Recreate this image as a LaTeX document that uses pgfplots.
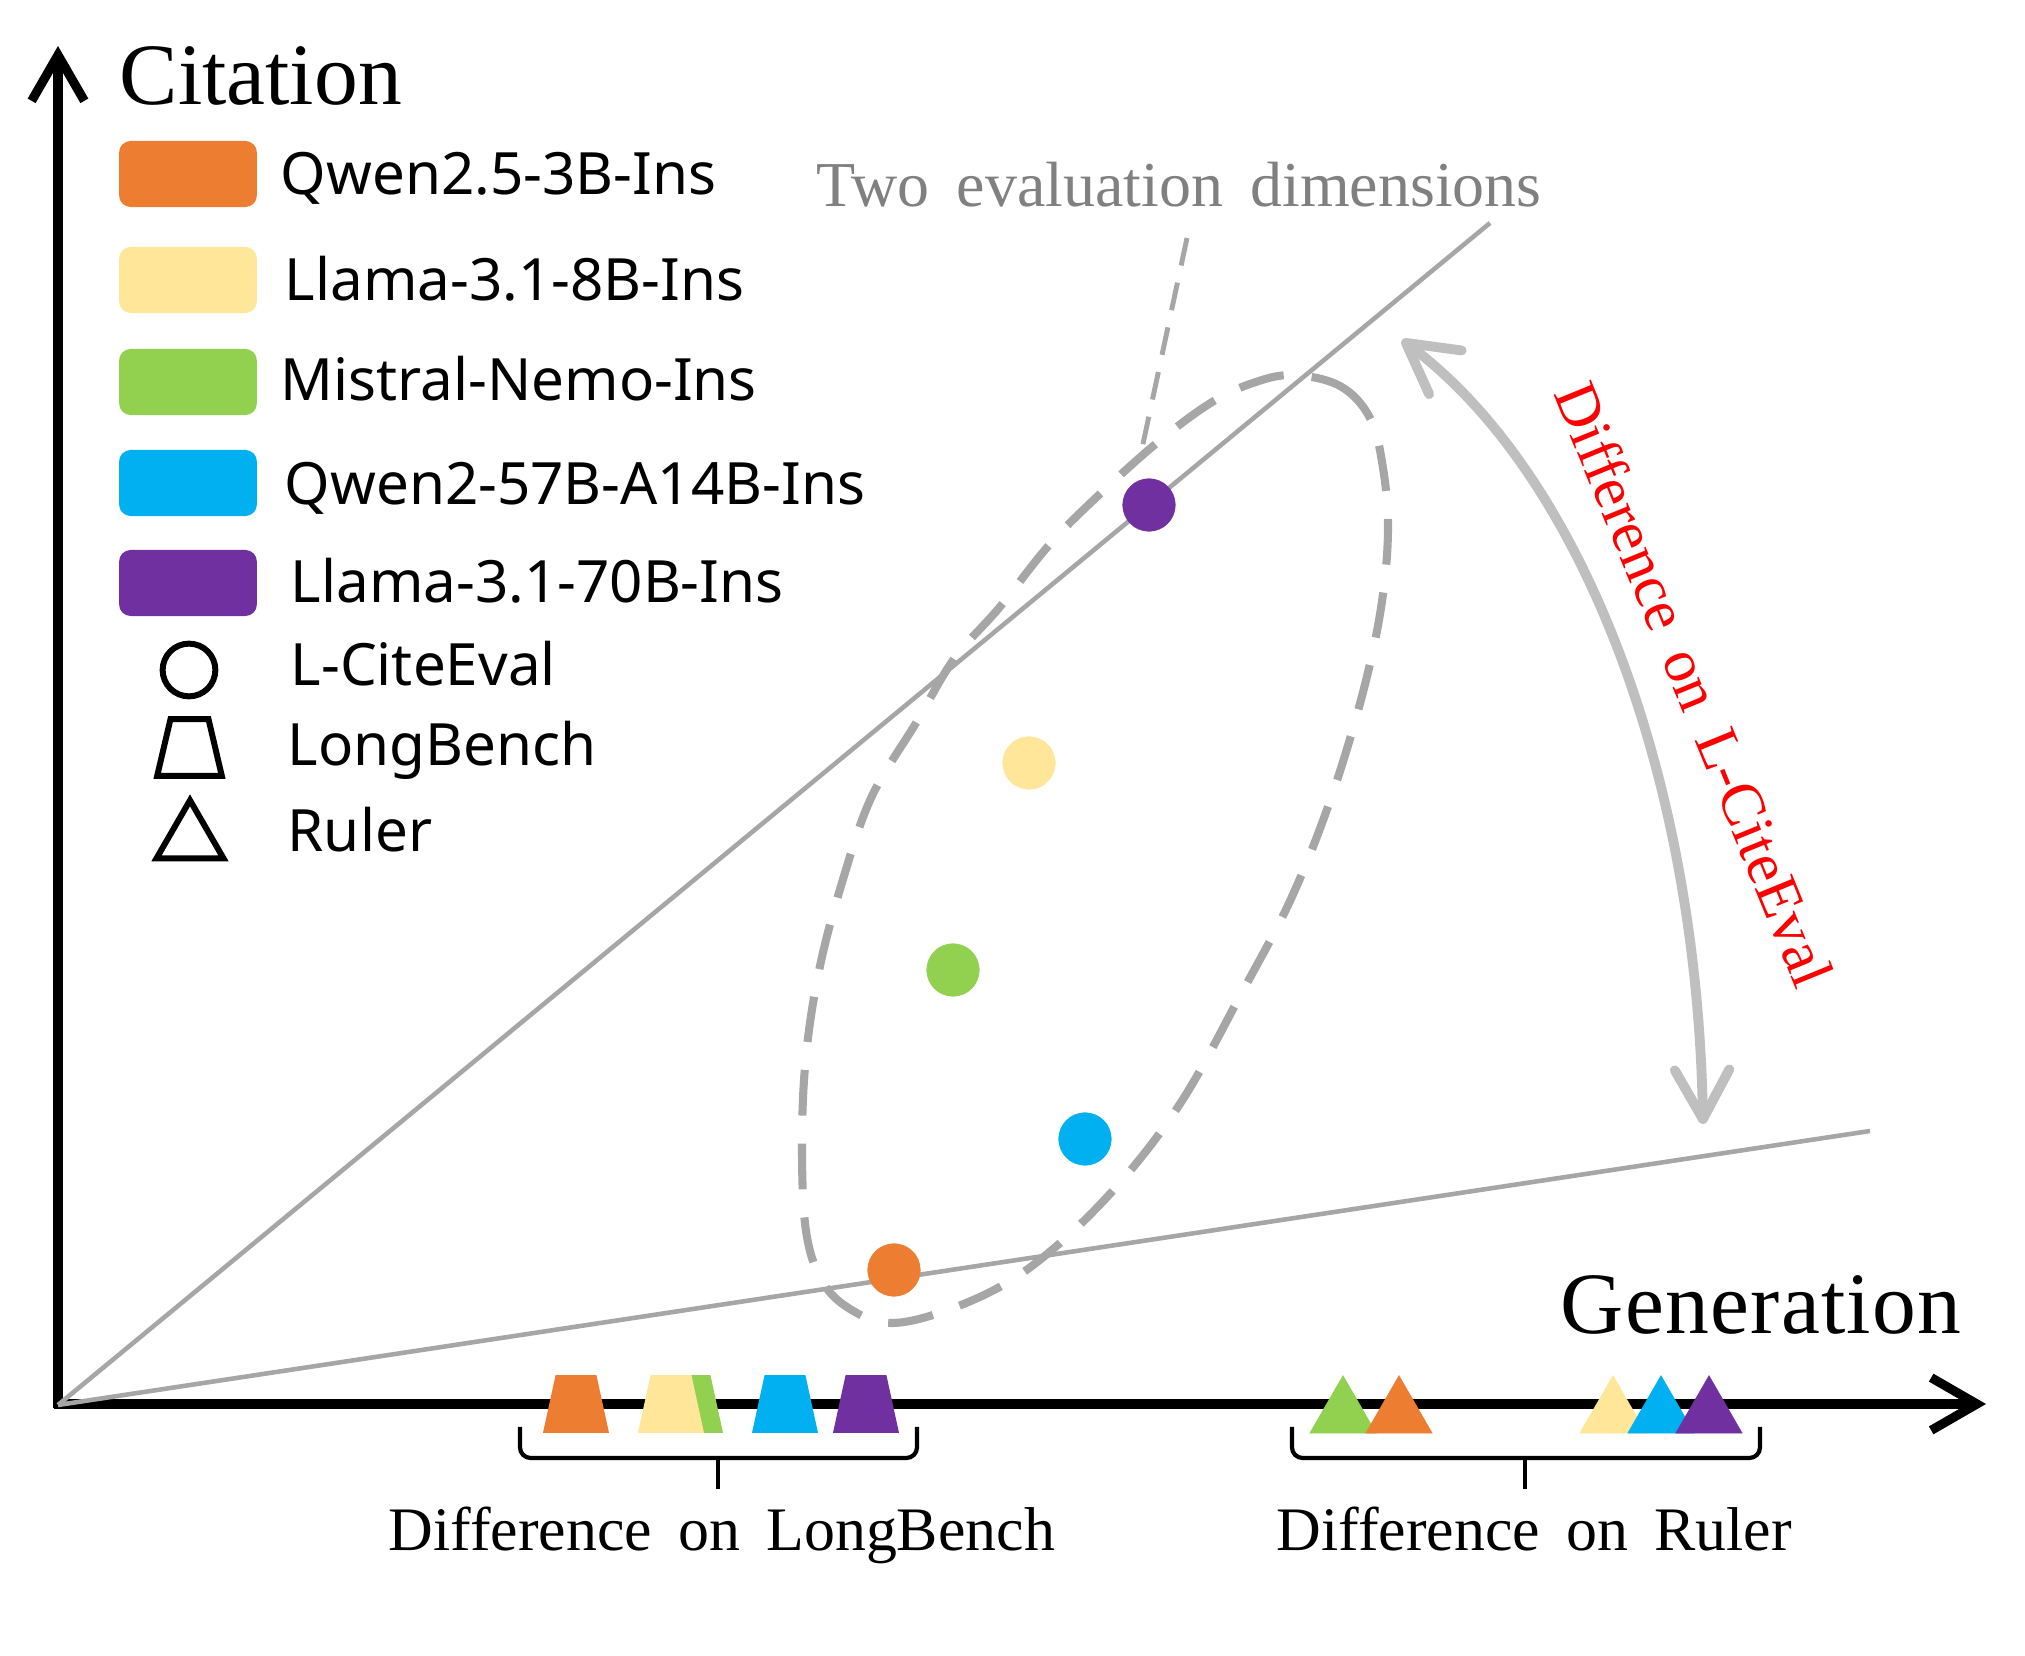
\documentclass[border=0pt]{standalone}
\usepackage{fontspec}
\setmainfont{Liberation Serif}
\newfontfamily\legfont{Noto Sans}
\newfontfamily\widefont{Liberation Serif}[WordSpace=1.7]
\usepackage{pgfplots}
\pgfplotsset{compat=1.18}
\usetikzlibrary{arrows.meta}

\definecolor{cOrange}{HTML}{ED7D31}
\definecolor{cYellow}{HTML}{FFE699}
\definecolor{cGreen}{HTML}{92D050}
\definecolor{cBlue}{HTML}{00B0F0}
\definecolor{cPurple}{HTML}{7030A0}
\definecolor{lineGray}{HTML}{A6A6A6}
\definecolor{arrowGray}{HTML}{BFBFBF}
\definecolor{textGray}{HTML}{808080}

% trapezoid marks (LongBench)
\pgfdeclareplotmark{trap*}{%
  \pgfpathmoveto{\pgfqpoint{-9.4pt}{-8.25pt}}%
  \pgfpathlineto{\pgfqpoint{9.4pt}{-8.25pt}}%
  \pgfpathlineto{\pgfqpoint{5.8pt}{8.25pt}}%
  \pgfpathlineto{\pgfqpoint{-5.8pt}{8.25pt}}%
  \pgfpathclose\pgfusepathqfill}
\pgfdeclareplotmark{trap}{%
  \pgfpathmoveto{\pgfqpoint{-9.2pt}{-8.1pt}}%
  \pgfpathlineto{\pgfqpoint{9.2pt}{-8.1pt}}%
  \pgfpathlineto{\pgfqpoint{5.4pt}{8.1pt}}%
  \pgfpathlineto{\pgfqpoint{-5.4pt}{8.1pt}}%
  \pgfpathclose\pgfusepathqstroke}
% rounded legend swatch
\pgfdeclareplotmark{swatch}{%
  \pgfpathmoveto{\pgfqpoint{-16.3pt}{-9.4pt}}%
  \pgfpathlineto{\pgfqpoint{16.3pt}{-9.4pt}}%
  \pgfpatharc{-90}{0}{3.3pt}%
  \pgfpathlineto{\pgfqpoint{19.6pt}{6.1pt}}%
  \pgfpatharc{0}{90}{3.3pt}%
  \pgfpathlineto{\pgfqpoint{-16.3pt}{9.4pt}}%
  \pgfpatharc{90}{180}{3.3pt}%
  \pgfpathlineto{\pgfqpoint{-19.6pt}{-6.1pt}}%
  \pgfpatharc{180}{270}{3.3pt}%
  \pgfpathclose\pgfusepathqfill}

\newcommand\bigserif{\fontsize{24.9pt}{29pt}\selectfont}
\newcommand\midserif{\widefont\fontsize{17.6pt}{21pt}\selectfont}
\newcommand\legtext{\legfont\fontsize{16.6pt}{20pt}\selectfont}

\begin{document}
\begin{tikzpicture}
\begin{axis}[scale only axis, width=20.25cm, height=16.56cm,
  xmin=0, xmax=2025, ymin=0, ymax=1656, hide axis, clip=false]
\path (0,0) rectangle (2025,1656);

% axes
\draw[line width=2.6pt, -{Straight Barb[length=13pt,width=15pt]}] (54,252) -- (1986,252);
\draw[line width=2.6pt, -{Straight Barb[length=13pt,width=15pt]}] (58,248) -- (58,1610);

% two evaluation dimensions
\addplot[lineGray, line width=1.3pt, no marks] coordinates {(58,251) (1490,1433)};
\addplot[lineGray, line width=1.3pt, no marks] coordinates {(58,251) (1870,525)};
\addplot[lineGray, line width=1.4pt, no marks, dash pattern=on 8pt off 5pt] coordinates {(1187,1418) (1140,1198)};

% dashed group outline
\draw[lineGray, line width=2.3pt, dash pattern=on 13pt off 8pt]
  plot[smooth cycle, tension=0.6] coordinates {
  (1292,1281) (1340,1270) (1370,1238) (1383,1188) (1388,1125) (1381,1048)
  (1362,960) (1330,855) (1290,755) (1240,660) (1185,560) (1130,485)
  (1070,422) (1010,375) (945,345) (890,333) (850,347) (822,375)
  (806,425) (802,510) (806,600) (820,690) (844,780) (872,860)
  (916,933) (954,997) (999,1048) (1050,1112) (1101,1163) (1158,1214)
  (1209,1252) (1250,1272)};

% curved double arrow
\draw[arrowGray, line width=2.8pt,
  arrows={Straight Barb[length=14pt,width=15.5pt,round]-Straight Barb[length=14pt,width=15.5pt,round]}]
  (1402,1316) .. controls (1582,1182) and (1697,880) .. (1703,532);

% L-CiteEval (circles)
\addplot[only marks, mark=*, mark size=7.5pt, mark options={draw=cOrange, fill=cOrange, line width=0.1pt}] coordinates {(894,386)};
\addplot[only marks, mark=*, mark size=7.5pt, mark options={draw=cYellow, fill=cYellow, line width=0.1pt}] coordinates {(1029,893)};
\addplot[only marks, mark=*, mark size=7.5pt, mark options={draw=cGreen, fill=cGreen, line width=0.1pt}] coordinates {(953,686)};
\addplot[only marks, mark=*, mark size=7.5pt, mark options={draw=cBlue, fill=cBlue, line width=0.1pt}] coordinates {(1085,517)};
\addplot[only marks, mark=*, mark size=7.5pt, mark options={draw=cPurple, fill=cPurple, line width=0.1pt}] coordinates {(1149,1151)};

% LongBench (trapezoids)
\addplot[only marks, mark=trap*, mark options={fill=cOrange}] coordinates {(576,252)};
\addplot[only marks, mark=trap*, mark options={fill=cGreen}] coordinates {(690,252)};
\addplot[only marks, mark=trap*, mark options={fill=cYellow}] coordinates {(671,252)};
\addplot[only marks, mark=trap*, mark options={fill=cBlue}] coordinates {(785,252)};
\addplot[only marks, mark=trap*, mark options={fill=cPurple}] coordinates {(866,252)};

% Ruler (triangles)
\addplot[only marks, mark=triangle*, mark size=10.95pt, mark options={draw=cGreen, fill=cGreen, line width=0.1pt}] coordinates {(1343,242)};
\addplot[only marks, mark=triangle*, mark size=10.95pt, mark options={draw=cOrange, fill=cOrange, line width=0.1pt}] coordinates {(1399,242)};
\addplot[only marks, mark=triangle*, mark size=10.95pt, mark options={draw=cYellow, fill=cYellow, line width=0.1pt}] coordinates {(1613,242)};
\addplot[only marks, mark=triangle*, mark size=10.95pt, mark options={draw=cBlue, fill=cBlue, line width=0.1pt}] coordinates {(1661,242)};
\addplot[only marks, mark=triangle*, mark size=10.95pt, mark options={draw=cPurple, fill=cPurple, line width=0.1pt}] coordinates {(1709,242)};

% braces
\draw[line width=1.2pt, rounded corners=3pt] (520,229) -- (520,198) -- (917,198) -- (917,229);
\draw[line width=1.2pt] (718,198) -- (718,167);
\draw[line width=1.2pt, rounded corners=3pt] (1292,229) -- (1292,198) -- (1760,198) -- (1760,229);
\draw[line width=1.2pt] (1525,198) -- (1525,167);

% legend
\addplot[only marks, mark=swatch, mark options={fill=cOrange}] coordinates {(188,1482)};
\addplot[only marks, mark=swatch, mark options={fill=cYellow}] coordinates {(188,1376)};
\addplot[only marks, mark=swatch, mark options={fill=cGreen}] coordinates {(188,1274)};
\addplot[only marks, mark=swatch, mark options={fill=cBlue}] coordinates {(188,1173)};
\addplot[only marks, mark=swatch, mark options={fill=cPurple}] coordinates {(188,1073)};
\addplot[only marks, mark=o, mark size=7.5pt, mark options={draw=black, line width=1.7pt}] coordinates {(189,986)};
\addplot[only marks, mark=trap, mark options={draw=black, line width=1.7pt}] coordinates {(189.5,908.5)};
\addplot[only marks, mark=triangle, mark size=11pt, mark options={draw=black, line width=1.7pt}] coordinates {(190,817)};

\begin{scope}[every node/.style={anchor=base west, inner sep=0pt}]
\node[font=\legtext] at (280,1461) {Qwen2.5-3B-Ins};
\node[font=\legtext] at (284,1355) {Llama-3.1-8B-Ins};
\node[font=\legtext] at (280,1255) {Mistral-Nemo-Ins};
\node[font=\legtext] at (284,1151) {Qwen2-57B-A14B-Ins};
\node[font=\legtext] at (290,1053) {Llama-3.1-70B-Ins};
\node[font=\legtext] at (290,970) {L-CiteEval};
\node[font=\legtext] at (287,890) {LongBench};
\node[font=\legtext] at (287,804) {Ruler};

\node[font=\bigserif] at (119,1551) {Citation};
\node[font=\bigserif] at (1560,322) {\addfontfeature{LetterSpace=1.5}Generation};
\node[font={\widefont\fontsize{18.2pt}{22pt}\selectfont}, text=textGray] at (816,1449) {Two evaluation dimensions};
\node[font=\midserif] at (388,105) {Difference on LongBench};
\node[font=\midserif] at (1276,105) {Difference on Ruler};
\node[font={\widefont\fontsize{17.4pt}{21pt}\selectfont}, text=red, rotate=-67.8] at (1553,1263) {Difference on L-CiteEval};
\end{scope}
\end{axis}
\end{tikzpicture}
\end{document}
